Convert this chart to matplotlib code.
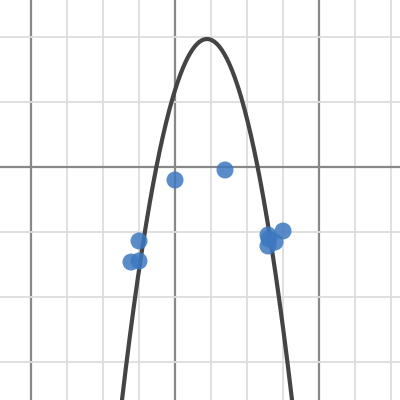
import matplotlib.pyplot as plt
import numpy as np

# points (grid units)
pts_x = [0.0, 1.389, -1.0, -1.222, -1.0, 2.583, 2.583, 2.778, 3.0, 2.611]
pts_y = [-0.2, -0.046, -1.138, -1.462, -1.446, -1.046, -1.215, -1.154, -0.985, -1.108]

# fitted parabola y = a(x-h)^2 + k
a, h, k = -0.996, 0.889, 1.969

fig = plt.figure(figsize=(4, 4), dpi=100)
ax = fig.add_axes([0, 0, 1, 1])
xmin, xmax = -175 / 36, 225 / 36
ymin, ymax = -233 / 65, 167 / 65
ax.set_xlim(xmin, xmax)
ax.set_ylim(ymin, ymax)

for gx in range(-4, 7):
    dark = gx % 4 == 0
    ax.axvline(gx, color='#888888' if dark else '#dddddd', lw=1.6 if dark else 1.3, zorder=0)
for gy in range(-3, 3):
    dark = gy == 0
    ax.axhline(gy, color='#888888' if dark else '#dddddd', lw=1.6 if dark else 1.3, zorder=0)

xs = np.linspace(xmin, xmax, 500)
ax.plot(xs, a * (xs - h) ** 2 + k, color='#444444', lw=3, zorder=2)
ax.scatter(pts_x, pts_y, s=150, color='#3d78c0', alpha=0.85, edgecolors='none', zorder=3)

ax.axis('off')
fig.savefig('out.png')
